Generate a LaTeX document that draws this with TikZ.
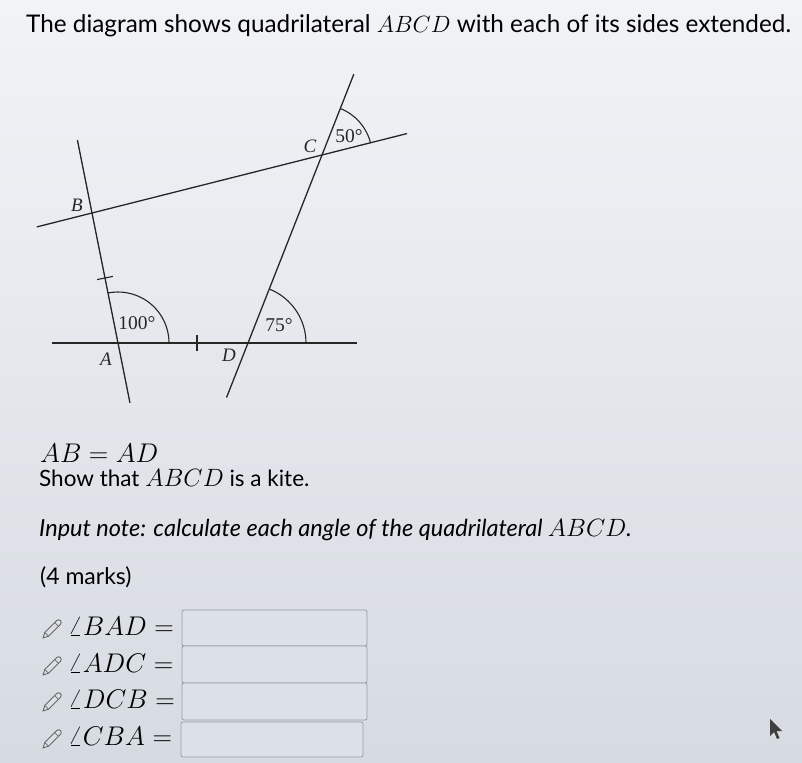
\RequirePackage{fix-cm}
\documentclass[tikz,border=0pt]{standalone}
\usepackage{fontspec}
\setmainfont{Lato}
\newfontfamily\tms{Liberation Serif}
\usetikzlibrary{calc}
\definecolor{bgtop}{HTML}{F1F3F6}
\definecolor{bgbot}{HTML}{D6DBE2}
\definecolor{ink}{HTML}{262626}
\definecolor{boxline}{HTML}{9A9EA4}
\definecolor{boxfill}{HTML}{DCE1E8}
\tikzset{
  geo/.style={draw=ink, line width=1.3pt},
  lbl/.style={font=\tms\itshape\fontsize{19}{19}\selectfont, text=ink, inner sep=0pt},
  deg/.style={font=\tms\fontsize{19.5}{19.5}\selectfont, text=ink, inner sep=0pt},
  txt/.style={anchor=base west, inner sep=0pt, text=black},
  ansbox/.style={draw=boxline, line width=0.8pt, fill=boxfill, rounded corners=2pt},
  pencil/.style={draw=gray!80!black, line width=0.9pt, fill=boxfill},
}
\newcommand{\mathbig}{\fontsize{23.5}{23.5}\selectfont}
\begin{document}
\begin{tikzpicture}[x=1pt,y=1pt]
\shade[top color=bgtop, bottom color=bgbot] (0,0) rectangle (802,-762);
\useasboundingbox (0,0) rectangle (802,-762);

% title
\node[txt, font=\fontsize{24.3}{24.3}\selectfont] (title) at (26,-33)
  {The diagram shows quadrilateral {\mathbig$ABCD$} with each of its sides extended.};

% geometry
\coordinate (A) at (118,-343);
\coordinate (B) at (92,-213);
\coordinate (C) at (322,-155);
\coordinate (D) at (248,-343);

\draw[geo] ($(A)!-0.46!(B)$) -- ($(A)!1.56!(B)$);
\draw[geo] ($(B)!-0.24!(C)$) -- ($(B)!1.37!(C)$);
\draw[geo] ($(D)!-0.29!(C)$) -- ($(D)!1.43!(C)$);
\draw[geo] ($(A)!-0.51!(D)$) -- ($(A)!1.84!(D)$);

% angle arcs
\draw[geo, line width=1.1pt] ($(A)!51pt!(D)$) arc[start angle=0, end angle=101.3, radius=51pt];
\draw[geo, line width=1.1pt] ($(D)+(58pt,0)$) arc[start angle=0, end angle=68.5, radius=58pt];
\draw[geo, line width=1.1pt] ($(C)!50pt!($(C)!-1!(B)$)$) arc[start angle=14.2, end angle=68.5, radius=50pt];

% equal-length ticks
\coordinate (tAB) at ($(A)!0.5!(B)$);
\draw[geo, line width=1.1pt] ($(tAB)!8pt!90:(B)$) -- ($(tAB)!8pt!-90:(B)$);
\coordinate (tAD) at (197,-343);
\draw[geo, line width=1.1pt] ($(tAD)+(0,8)$) -- ($(tAD)+(0,-8)$);

% labels
\node[lbl] (lB) at (77,-205) {B};
\node[lbl] (lC) at (310,-146) {C};
\node[lbl] (lA) at (106,-359) {A};
\node[lbl] (lD) at (229,-355) {D};
\node[deg] (a100) at (137,-323) {100°};
\node[deg] (a75) at (279,-325) {75°};
\node[deg] (a50) at (349,-136) {50°};

% text block
\node[txt, font=\fontsize{27}{27}\selectfont] (eq) at (40,-462) {$AB=AD$};
\node[txt, font=\fontsize{22.5}{22.5}\selectfont] (show) at (39,-486)
  {Show that {\fontsize{25}{25}\selectfont$ABCD$} is a kite.};
\node[txt, font=\itshape\fontsize{23.5}{23.5}\selectfont] (note) at (39,-536)
  {Input note: calculate each angle of the quadrilateral {\upshape\fontsize{25}{25}\selectfont$ABCD$}.};
\node[txt, font=\fontsize{23}{23}\selectfont] (marks) at (40,-584) {(4 marks)};

% answer rows
\foreach \i/\nm/\y/\xl/\xr/\yt/\yb in {1/BAD/-635/182/367/-610/-646, 2/ADC/-672/182/367/-646/-683, 3/DCB/-708/182/367/-683/-720, 4/CBA/-745/181/363/-722/-757}{
  \draw[ansbox] (\xl,\yt) rectangle (\xr,\yb);
  \node[txt, font=\fontsize{27}{27}\selectfont] (row\i) at (68,\y) {$\angle \nm =$};
  \begin{scope}[shift={(53,\y+7)}, rotate=45]
    \draw[pencil] (-9,-2.6) -- (5,-2.6) -- (8,-2.6) arc[start angle=-90,end angle=90,radius=2.6] -- (-9,2.6) -- (-14,0) -- cycle;
    \draw[gray!80!black, line width=0.7pt] (5,-2.6) -- (5,2.6);
    \draw[gray!80!black, line width=0.7pt] (-9,-2.6) -- (-9,2.6);
  \end{scope}
}

% mouse cursor
\fill[black!75] (770,-719) -- (770,-736) -- (774,-732) -- (777,-739) -- (779.5,-738) -- (776.5,-731) -- (782,-731) -- cycle;
\end{tikzpicture}
\end{document}
